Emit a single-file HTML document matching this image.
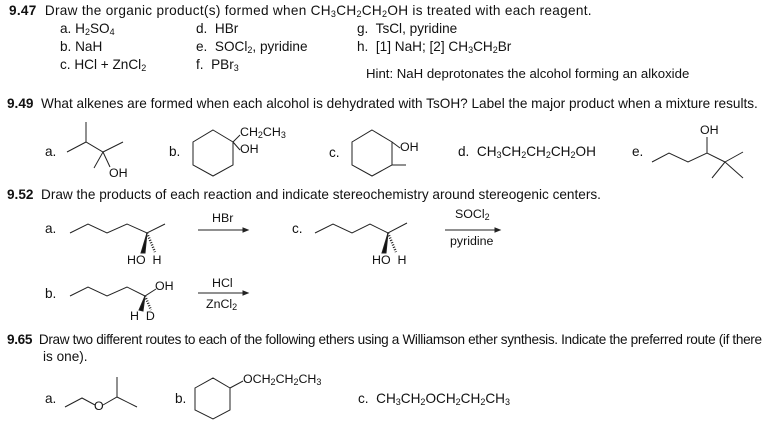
<!DOCTYPE html>
<html><head><meta charset="utf-8"><style>
body{margin:0;width:780px;height:423px;background:#fff;position:relative;overflow:hidden;font-family:"Liberation Sans",Arial,sans-serif;color:#111}
.t{position:absolute;font-size:13.6px;line-height:14px;white-space:nowrap}
.s{position:absolute;font-size:12.4px;line-height:13px;white-space:nowrap}
sub{font-size:9px;vertical-align:-2px;line-height:0}
b{font-weight:bold}
svg{position:absolute;left:0;top:0}
</style></head><body>
<div class="t" style="left:9px;top:4px;letter-spacing:0.3px"><b>9.47</b>&nbsp; Draw the organic product(s) formed when CH<sub>3</sub>CH<sub>2</sub>CH<sub>2</sub>OH is treated with each reagent.</div>
<div class="t" style="left:60px;top:22px">a. H<sub>2</sub>SO<sub>4</sub></div>
<div class="t" style="left:196px;top:22px">d.&nbsp; HBr</div>
<div class="t" style="left:357px;top:22px">g.&nbsp; TsCl, pyridine</div>
<div class="t" style="left:60px;top:40px">b. NaH</div>
<div class="t" style="left:196px;top:40px">e.&nbsp; SOCl<sub>2</sub>, pyridine</div>
<div class="t" style="left:357px;top:40px">h.&nbsp; [1] NaH; [2] CH<sub>3</sub>CH<sub>2</sub>Br</div>
<div class="t" style="left:60px;top:58px">c. HCl + ZnCl<sub>2</sub></div>
<div class="t" style="left:196px;top:58px">f.&nbsp; PBr<sub>3</sub></div>
<div class="t" style="left:366px;top:67px;font-size:13.2px">Hint: NaH deprotonates the alcohol forming an alkoxide</div>

<div class="t" style="left:7px;top:97px"><b>9.49</b>&nbsp; What alkenes are formed when each alcohol is dehydrated with TsOH? Label the major product when a mixture results.</div>
<div class="t" style="left:45px;top:145px">a.</div>
<div class="s" style="left:109px;top:167px">OH</div>
<div class="t" style="left:169px;top:145px">b.</div>
<div class="s" style="left:240px;top:126px">CH<sub>2</sub>CH<sub>3</sub></div>
<div class="s" style="left:240px;top:143px">OH</div>
<div class="t" style="left:329px;top:146px">c.</div>
<div class="s" style="left:400px;top:141px">OH</div>
<div class="t" style="left:458px;top:145px">d.&nbsp; CH<sub>3</sub>CH<sub>2</sub>CH<sub>2</sub>CH<sub>2</sub>OH</div>
<div class="t" style="left:632px;top:145px">e.</div>
<div class="s" style="left:700px;top:124px">OH</div>

<div class="t" style="left:7px;top:188px"><b>9.52</b>&nbsp; Draw the products of each reaction and indicate stereochemistry around stereogenic centers.</div>
<div class="t" style="left:45px;top:222px">a.</div>
<div class="s" style="left:127px;top:254px">HO&nbsp;&nbsp;H</div>
<div class="s" style="left:212px;top:212px">HBr</div>
<div class="t" style="left:292px;top:222px">c.</div>
<div class="s" style="left:372px;top:254px">HO&nbsp;&nbsp;H</div>
<div class="s" style="left:455px;top:208px">SOCl<sub>2</sub></div>
<div class="s" style="left:450px;top:235px">pyridine</div>
<div class="t" style="left:45px;top:287px">b.</div>
<div class="s" style="left:155px;top:280px">OH</div>
<div class="s" style="left:130px;top:310px">H&nbsp;&nbsp;D</div>
<div class="s" style="left:212px;top:277px">HCl</div>
<div class="s" style="left:206px;top:298px">ZnCl<sub>2</sub></div>

<div class="t" style="left:7px;top:333px;letter-spacing:-0.35px"><b>9.65</b>&nbsp; Draw two different routes to each of the following ethers using a Williamson ether synthesis. Indicate the preferred route (if there</div>
<div class="t" style="left:43px;top:350px">is one).</div>
<div class="t" style="left:45px;top:392px">a.</div>
<div class="s" style="left:94px;top:400px">O</div>
<div class="t" style="left:175px;top:392px">b.</div>
<div class="s" style="left:243px;top:373px">OCH<sub>2</sub>CH<sub>2</sub>CH<sub>3</sub></div>
<div class="t" style="left:358px;top:392px">c.&nbsp; CH<sub>3</sub>CH<sub>2</sub>OCH<sub>2</sub>CH<sub>2</sub>CH<sub>3</sub></div>

<svg width="780" height="423" viewBox="0 0 780 423" fill="none" stroke="#222" stroke-width="1">
<polyline points="67,152 86,142 103,152 123,142"/><line x1="86" y1="142" x2="86" y2="122"/>
<line x1="103" y1="152" x2="94" y2="168"/><line x1="103" y1="152" x2="110" y2="167"/>
<polygon points="213,130 233,142 233,165 213,176 193,165 193,142"/>
<line x1="233" y1="142" x2="240" y2="135"/><line x1="233" y1="142" x2="240" y2="150"/>
<polygon points="372,130 392,142 392,165 372,176 352,165 352,142"/>
<line x1="392" y1="142" x2="400" y2="148"/><line x1="392" y1="165" x2="406" y2="165"/>
<polyline points="652,162 669,153 688,162 707,153 725,162"/>
<line x1="707" y1="153" x2="707" y2="137"/>
<line x1="725" y1="162" x2="743" y2="152"/><line x1="725" y1="162" x2="743" y2="178"/><line x1="725" y1="162" x2="712" y2="178"/>
<polyline points="70,233 88,224 107,233 127,224 147,233 165,224"/>
<polygon points="147,233 141,253 145,253" fill="#111"/><line x1="147" y1="233" x2="155" y2="252" stroke-dasharray="1,1.5" stroke-width="2.5"/>
<polyline points="315,233 333,224 352,233 370,224 388,233 407,223"/>
<polygon points="388,233 382,253 386,253" fill="#111"/><line x1="388" y1="233" x2="396" y2="252" stroke-dasharray="1,1.5" stroke-width="2.5"/>
<polyline points="70,296 88,287 107,296 127,287 145,296 156,289"/>
<polygon points="145,296 139,310 143,311" fill="#111"/><line x1="145" y1="296" x2="151" y2="310" stroke-dasharray="1,1.5" stroke-width="2.5"/>
<line x1="198" y1="230" x2="246" y2="230"/><polygon points="248,230 243,228 243,232" fill="#222"/>
<line x1="445" y1="230" x2="498" y2="230"/><polygon points="500,230 495,228 495,232" fill="#222"/>
<line x1="198" y1="293" x2="246" y2="293"/><polygon points="248,293 243,291 243,295" fill="#222"/>
<polyline points="65,407 82,398 95,405"/><polyline points="103,405 117,397 137,407"/><line x1="117" y1="397" x2="117" y2="377"/>
<polygon points="195,388 213,378 230,388 230,410 213,419 195,410"/><line x1="230" y1="388" x2="243" y2="381"/>
</svg>
</body></html>
